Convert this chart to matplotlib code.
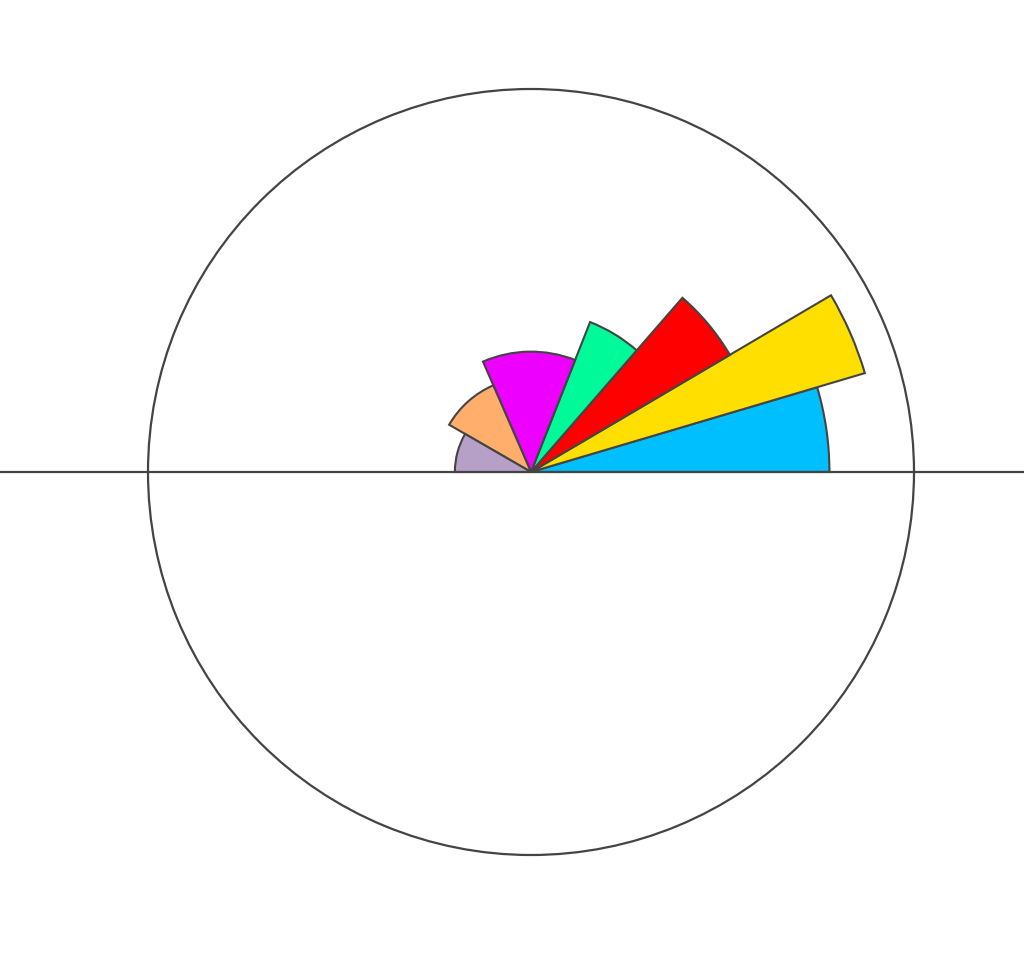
import numpy as np
import matplotlib.pyplot as plt

# wedge data (degrees)
labels  = ["blue", "yellow", "red", "green", "magenta", "orange", "purple"]
starts  = [0, 16.5, 30.5, 49, 68.5, 113.5, 150]
widths  = [16.5, 14, 18.5, 19.5, 45, 36.5, 30]
radii   = [3.0, 3.5, 2.32, 1.62, 1.21, 0.95, 0.765]
colors  = ["#00BFFF", "#FFDF00", "#FF0000", "#00FA9A", "#EE00FF", "#FFAF6B", "#B6A0C8"]
R_MAX   = 3.85
LINE    = "#444444"

fig = plt.figure(figsize=(10.24, 9.68), dpi=100)
ax = fig.add_axes([148 / 1024, 113 / 968, 766 / 1024, 766 / 968], projection="polar")

theta = np.radians(np.array(starts) + np.array(widths) / 2)
ax.bar(theta, radii, width=np.radians(widths), color=colors,
       edgecolor=LINE, linewidth=1.5, align="center")

ax.set_ylim(0, R_MAX)
ax.grid(False)
ax.set_xticks([])
ax.set_yticks([])
ax.spines["polar"].set_color(LINE)
ax.spines["polar"].set_linewidth(1.6)

# horizontal axis line through the whole figure
fig.add_artist(plt.Line2D([0, 1], [496 / 968, 496 / 968], color=LINE,
                          linewidth=1.6, transform=fig.transFigure))

fig.savefig("out.png", dpi=100)
